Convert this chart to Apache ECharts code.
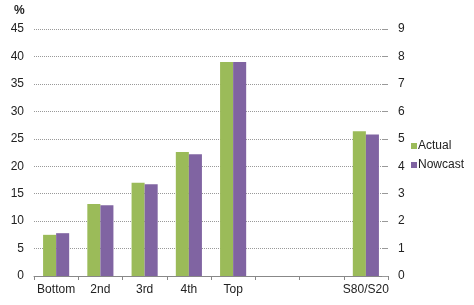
<!DOCTYPE html>
<html><head><meta charset="utf-8">
<script src="https://cdn.jsdelivr.net/npm/echarts@6/dist/echarts.min.js"></script>
<style>html,body{margin:0;padding:0;background:#fff}#c{width:474px;height:305px}</style>
</head><body><div id="c"></div>
<script>
const categories = ['Bottom','2nd','3rd','4th','Top','','','S80/S20'];
const actualPct = [7.5, 13.1, 17.0, 22.6, 39.0, '-', '-', '-'];
const nowcastPct = [7.8, 12.9, 16.7, 22.2, 39.0, '-', '-', '-'];
const actualRatio = ['-', '-', '-', '-', '-', '-', '-', 5.27];
const nowcastRatio = ['-', '-', '-', '-', '-', '-', '-', 5.16];
const leftTicks = [0, 45, 5];
const rightTicks = [0, 9, 1];

const green = '#9BBB59', purple = '#8064A2';
const font = 'Liberation Sans, Arial, sans-serif';
const chart = echarts.init(document.getElementById('c'));
const barCommon = {type:'bar', barGap:'0%', barCategoryGap:'41%'};
chart.setOption({
  animation:false,
  textStyle:{fontFamily:font},
  grid:{left:34, right:86, top:29, bottom:29},
  graphic:[{type:'text', left:14, top:5, style:{text:'%', font:'bold 12px '+font, fill:'#222'}}],
  legend:{orient:'vertical', left:406, top:135, itemWidth:6, itemHeight:6, itemGap:7, icon:'rect',
    textStyle:{fontSize:12, color:'#222', fontFamily:font, padding:[0,0,0,-4]},
    data:['Actual','Nowcast']},
  xAxis:[
    {type:'category', data:categories, axisLine:{lineStyle:{color:'#888'}},
     axisTick:{show:true, length:4, lineStyle:{color:'#888'}},
     axisLabel:{color:'#222', fontSize:12, margin:8, interval:0}},
    {type:'category', data:categories, show:false}
  ],
  yAxis:[
    {type:'value', min:leftTicks[0], max:leftTicks[1], interval:leftTicks[2],
     axisLine:{show:false}, axisTick:{show:false},
     axisLabel:{color:'#222', fontSize:12, margin:10},
     splitLine:{lineStyle:{color:'#999', type:[1,1]}}},
    {type:'value', min:rightTicks[0], max:rightTicks[1], interval:rightTicks[2], position:'right',
     axisLine:{show:false}, axisTick:{show:true, inside:true, length:6, lineStyle:{color:'#999'}},
     axisLabel:{color:'#222', fontSize:12, margin:10},
     splitLine:{show:false}}
  ],
  series:[
    Object.assign({name:'Actual', data:actualPct, itemStyle:{color:green}, xAxisIndex:0, yAxisIndex:0}, barCommon),
    Object.assign({name:'Nowcast', data:nowcastPct, itemStyle:{color:purple}, xAxisIndex:0, yAxisIndex:0}, barCommon),
    Object.assign({name:'Actual', data:actualRatio, itemStyle:{color:green}, xAxisIndex:1, yAxisIndex:1}, barCommon),
    Object.assign({name:'Nowcast', data:nowcastRatio, itemStyle:{color:purple}, xAxisIndex:1, yAxisIndex:1}, barCommon)
  ]
});
</script></body></html>
